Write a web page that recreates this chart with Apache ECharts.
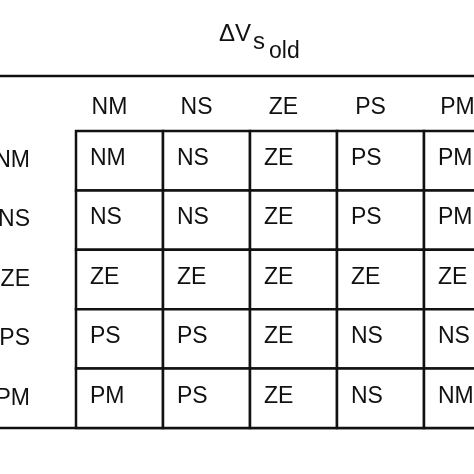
<!DOCTYPE html>
<html>
<head>
<meta charset="utf-8">
<script src="https://cdn.jsdelivr.net/npm/echarts@6/dist/echarts.min.js"></script>
<style>
  html, body { margin: 0; padding: 0; background: #fff; }
  #chart { width: 474px; height: 474px; }
</style>
</head>
<body>
<div id="chart"></div>
<script>
// column headers (ΔVs old) and row headers
const colLabels = ["NM", "NS", "ZE", "PS", "PM"];
const rowLabels = ["NM", "NS", "ZE", "PS", "PM"];
// rule table, one array per row
const rowNM = ["NM", "NS", "ZE", "PS", "PM"];
const rowNS = ["NS", "NS", "ZE", "PS", "PM"];
const rowZE = ["ZE", "ZE", "ZE", "ZE", "ZE"];
const rowPS = ["PS", "PS", "ZE", "NS", "NS"];
const rowPM = ["PM", "PS", "ZE", "NS", "NM"];
const rows = [rowNM, rowNS, rowZE, rowPS, rowPM];

const cells = [];
rows.forEach((r, i) => r.forEach((v, j) => cells.push([j, i, v])));

const font = "Liberation Sans, Arial, sans-serif";
const chart = echarts.init(document.getElementById("chart"));

chart.setOption({
  animation: false,
  backgroundColor: "#fff",
  grid: { left: 76, top: 131, width: 435, height: 297, outerBoundsMode: "none", containLabel: false },
  xAxis: {
    type: "category",
    position: "top",
    data: colLabels,
    axisLine: { show: false },
    axisTick: { show: false },
    axisLabel: { margin: 12, fontSize: 23, color: "#111", fontFamily: font, padding: [0, 20, 0, 0] }
  },
  yAxis: {
    type: "category",
    inverse: true,
    data: rowLabels,
    axisLine: { show: false },
    axisTick: { show: false },
    axisLabel: { margin: 46, fontSize: 23, color: "#111", fontFamily: font }
  },
  graphic: [
    { type: "line", shape: { x1: 0, y1: 76, x2: 474, y2: 76 }, style: { stroke: "#111", lineWidth: 2.5 } },
    { type: "line", shape: { x1: 0, y1: 428, x2: 474, y2: 428 }, style: { stroke: "#111", lineWidth: 2.5 } },
    {
      type: "text", left: 219, top: 22,
      style: {
        text: "{a|ΔV}{b|s}{c|old}",
        rich: {
          a: { fontSize: 24, fontFamily: font, fill: "#111" },
          b: { fontSize: 24, fontFamily: font, fill: "#111", padding: [16, 0, 0, 2] },
          c: { fontSize: 23, fontFamily: font, fill: "#111", padding: [36, 0, 0, 4] }
        }
      }
    }
  ],
  series: [{
    type: "custom",
    data: cells,
    renderItem: function (params, api) {
      const c = api.coord([api.value(0), api.value(1)]);
      const s = api.size([1, 1]);
      const x0 = c[0] - s[0] / 2, y0 = c[1] - s[1] / 2;
      return {
        type: "group",
        children: [
          { type: "rect", shape: { x: x0, y: y0, width: s[0], height: s[1] },
            style: { fill: "#fff", stroke: "#111", lineWidth: 2.5 } },
          { type: "text", x: x0 + 14, y: c[1] - 2,
            style: { text: api.value(2), fontSize: 23, fontFamily: font, fill: "#111",
                     align: "left", verticalAlign: "middle" } }
        ]
      };
    }
  }]
});
</script>
</body>
</html>
